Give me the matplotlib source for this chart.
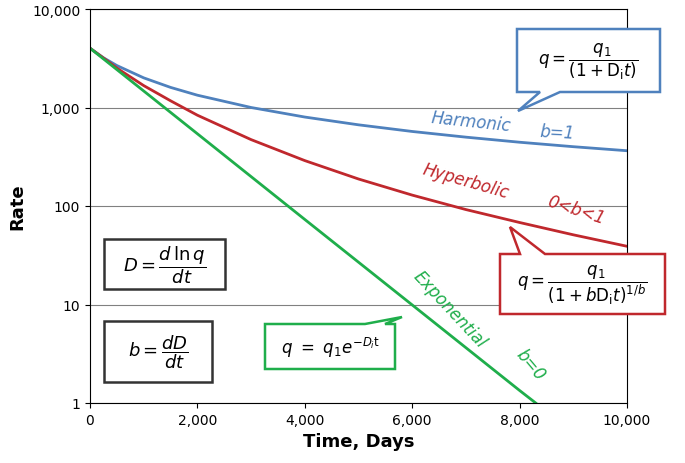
import matplotlib
matplotlib.use("Agg")
import matplotlib.pyplot as plt
from matplotlib.patches import Polygon

t_harm = [0, 250, 500, 1000, 1500, 2000, 3000, 4000, 5000, 6000, 7000, 8000, 9000, 10000]
q_harm = [4000, 3200, 2667, 2000, 1600, 1333, 1000, 800, 667, 571, 500, 444, 400, 364]
t_hyp = [0, 250, 500, 1000, 1500, 2000, 3000, 4000, 5000, 6000, 7000, 8000, 9000, 10000]
q_hyp = [4000, 3180, 2511, 1669, 1170, 835, 472, 289, 188, 129, 92, 68, 51, 39]
t_exp = [0, 2000, 4000, 6000, 8000, 8300]
q_exp = [4000, 541, 73, 9.9, 1.34, 1.0]
xticks = [0, 2000, 4000, 6000, 8000, 10000]
yticks = [1, 10, 100, 1000, 10000]

BLUE, RED, GREEN = "#4f81bd", "#c0282d", "#1fae4b"
W, H = 685, 464
fig = plt.figure(figsize=(6.85, 4.64), dpi=100)
ax = fig.add_axes([90/W, 1-404/H, 537/W, 394/H])
ax.plot(t_harm, q_harm, color=BLUE, lw=2)
ax.plot(t_hyp, q_hyp, color=RED, lw=2)
ax.plot(t_exp, q_exp, color=GREEN, lw=2)
ax.set_yscale("log")
ax.set_xlim(0, 10000); ax.set_ylim(1, 10000)
ax.set_xticks(xticks); ax.set_xticklabels([f"{v:,}" for v in xticks])
ax.set_yticks(yticks); ax.set_yticklabels([f"{v:,}" for v in yticks])
ax.minorticks_off()
ax.grid(axis="y", color="#808080", lw=0.8)
ax.tick_params(labelsize=10)
ax.set_xlabel("Time, Days", fontsize=13, fontweight="bold")
ax.set_ylabel("Rate", fontsize=13, fontweight="bold")

kw = dict(fontsize=12, style="italic", ha="center", va="center")
ax.text(7100, 730, "Harmonic", color=BLUE, rotation=-6, **kw)
ax.text(8700, 560, "b=1", color=BLUE, rotation=-3, **kw)
ax.text(7000, 180, "Hyperbolic", color=RED, rotation=-16, **kw)
ax.text(9050, 93, "0<b<1", color=RED, rotation=-18, **kw)
ax.text(6700, 9, "Exponential", color=GREEN, rotation=-47, **kw)
ax.text(8200, 2.5, "b=0", color=GREEN, rotation=-50, **kw)

def box(x0, y0, x1, y1, ec, text, fs, tail=None):
    pts = [(x0, y0), (x1, y0), (x1, y1), (x0, y1)]
    if tail:
        pts = tail(pts)
    poly = Polygon([(x/W, 1-y/H) for x, y in pts], closed=True, transform=fig.transFigure,
                   fc="white", ec=ec, lw=1.8, zorder=5)
    fig.add_artist(poly)
    fig.text((x0+x1)/2/W, 1-(y0+y1)/2/H, text, fontsize=fs, ha="center", va="center", zorder=6)

box(104, 240, 225, 290, "#333333", r"$D = \dfrac{d\,\ln q}{dt}$", 13)
box(104, 322, 212, 383, "#333333", r"$b = \dfrac{dD}{dt}$", 13)
box(517, 30, 660, 93, BLUE, r"$q = \dfrac{q_1}{(1+\mathrm{D_i}t)}$", 12,
    tail=lambda p: [p[0], p[1], p[2], (560, 93), (518, 112), (540, 93), p[3]])
box(500, 255, 665, 315, RED, r"$q = \dfrac{q_1}{(1+b\mathrm{D_i}t)^{1/b}}$", 12,
    tail=lambda p: [p[0], (520, 255), (510, 228), (545, 255), p[1], p[2], p[3]])
box(265, 325, 395, 370, GREEN, r"$q\ =\ q_1e^{-D_i\mathrm{t}}$", 12,
    tail=lambda p: [p[0], (365, 325), (402, 318), (385, 325), p[1], p[2], p[3]])

fig.savefig("out.png", dpi=100)
